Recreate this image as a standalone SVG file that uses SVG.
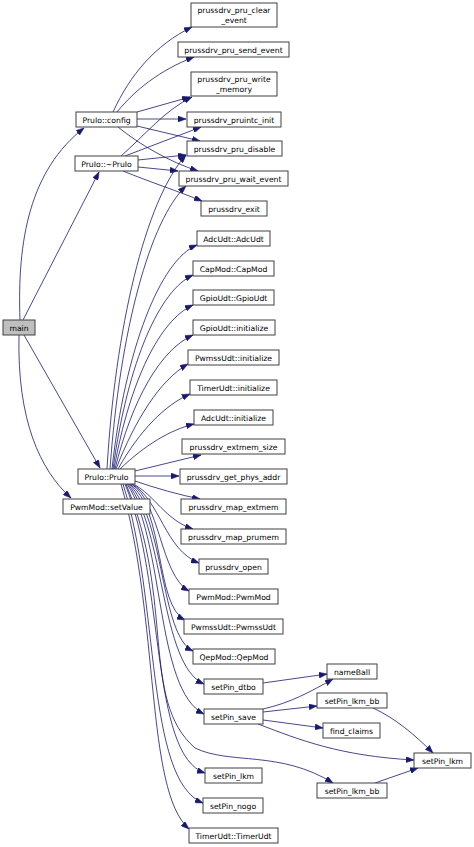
<svg xmlns="http://www.w3.org/2000/svg" width="474" height="847" viewBox="0 0 474 847">
<style>
.n rect{fill:#fff;stroke:#404040;stroke-width:1}
.n.m rect{fill:#bfbfbf}
.n text{font-family:"DejaVu Sans","Liberation Sans",sans-serif;font-size:7.7px;fill:#000;text-anchor:middle}
.e path{fill:none;stroke:#191970;stroke-width:0.8;marker-end:url(#ah)}
</style>
<defs>
<marker id="ah" markerUnits="userSpaceOnUse" markerWidth="9" markerHeight="6" refX="8" refY="3" orient="auto">
<path d="M0,0 L8,3 L0,6 z" fill="#191970" stroke="#191970" stroke-width="0.5"/>
</marker>
</defs>
<rect width="474" height="847" fill="#fff"/>
<g id="edges" class="e">
<path d="M20,320 C17,240 30,170 84,128"/>
<path d="M23,320 L99,172"/>
<path d="M24,335 L100,468"/>
<path d="M19,335 C17,420 40,470 71,498"/>
<path d="M113,112 C130,75 155,45 192,27"/>
<path d="M117,112 C135,90 160,70 194,57"/>
<path d="M137,112 L190,97"/>
<path d="M137,119 L186,119"/>
<path d="M137,126 L200,141"/>
<path d="M118,127 C140,145 170,162 198,171"/>
<path d="M121,156 C145,135 165,110 192,97"/>
<path d="M125,156 L201,127"/>
<path d="M138,160 L186,155"/>
<path d="M138,167 L178,171"/>
<path d="M123,171 C150,182 180,192 202,201"/>
<path d="M107,469 C115,330 145,200 186,155"/>
<path d="M110,469 C120,330 150,220 186,186"/>
<path d="M112,469 C125,350 160,260 197,245"/>
<path d="M113,469 C128,360 160,290 193,275"/>
<path d="M114,469 C130,380 160,320 193,305"/>
<path d="M115,469 C132,400 160,350 193,335"/>
<path d="M116,469 C135,420 160,380 188,364"/>
<path d="M118,469 C140,430 165,405 190,394"/>
<path d="M120,469 C145,445 170,430 194,424"/>
<path d="M135,471 L201,455"/>
<path d="M135,476 L179,476"/>
<path d="M135,481 C155,488 180,495 200,499"/>
<path d="M133,484 C155,495 165,520 193,529"/>
<path d="M132,484 C160,500 165,550 199,563"/>
<path d="M131,484 C160,500 160,575 189,591"/>
<path d="M130,484 C165,510 155,605 185,620"/>
<path d="M129,484 C165,520 160,635 193,651"/>
<path d="M128,484 C165,530 160,665 204,684"/>
<path d="M127,484 C165,540 155,690 204,714"/>
<path d="M126,484 C175,600 140,700 195,748 C230,765 280,750 333,783"/>
<path d="M125,484 C165,580 150,755 205,773"/>
<path d="M123,484 C160,600 145,780 203,803"/>
<path d="M121,484 C160,620 145,790 189,829"/>
<path d="M263,683 L327,674"/>
<path d="M263,709 C290,703 310,692 333,679"/>
<path d="M263,712 L317,706"/>
<path d="M263,720 L323,728"/>
<path d="M258,724 C300,740 340,756 414,760"/>
<path d="M373,708 C395,718 415,735 433,753"/>
<path d="M375,783 L418,768"/>
</g>
<g id="n_main" class="n m"><rect x="3" y="320" width="32" height="15"/><text x="19" y="330.5">main</text></g>
<g id="n_config" class="n"><rect x="76" y="112" width="61" height="15"/><text x="106.5" y="122.5">PruIo::config</text></g>
<g id="n_dtor" class="n"><rect x="75" y="156" width="63" height="15"/><text x="106.5" y="166.5">PruIo::~PruIo</text></g>
<g id="n_pruio" class="n"><rect x="78" y="469" width="57" height="15"/><text x="106.5" y="479.5">PruIo::PruIo</text></g>
<g id="n_setvalue" class="n"><rect x="63" y="499" width="87" height="15"/><text x="106.5" y="509.5">PwmMod::setValue</text></g>
<g id="n_clear" class="n"><rect x="191" y="3" width="86" height="24"/><text x="234" y="13">prussdrv_pru_clear</text><text x="234" y="22.5">_event</text></g>
<g id="n_send" class="n"><rect x="178" y="42" width="111" height="15"/><text x="233.5" y="52.5">prussdrv_pru_send_event</text></g>
<g id="n_write" class="n"><rect x="191" y="72" width="86" height="24"/><text x="234" y="82">prussdrv_pru_write</text><text x="234" y="91.5">_memory</text></g>
<g id="n_intc" class="n"><rect x="187" y="112" width="94" height="15"/><text x="234" y="122.5">prussdrv_pruintc_init</text></g>
<g id="n_disable" class="n"><rect x="187" y="141" width="95" height="15"/><text x="234.5" y="151.5">prussdrv_pru_disable</text></g>
<g id="n_wait" class="n"><rect x="179" y="171" width="109" height="15"/><text x="233.5" y="181.5">prussdrv_pru_wait_event</text></g>
<g id="n_exit" class="n"><rect x="201" y="201" width="66" height="15"/><text x="234" y="211.5">prussdrv_exit</text></g>
<g id="n_adcudt" class="n"><rect x="197" y="231" width="73" height="15"/><text x="233.5" y="241.5">AdcUdt::AdcUdt</text></g>
<g id="n_capmod" class="n"><rect x="193" y="261" width="81" height="15"/><text x="233.5" y="271.5">CapMod::CapMod</text></g>
<g id="n_gpioudt" class="n"><rect x="193" y="290" width="81" height="15"/><text x="233.5" y="300.5">GpioUdt::GpioUdt</text></g>
<g id="n_gpioinit" class="n"><rect x="193" y="320" width="82" height="15"/><text x="234" y="330.5">GpioUdt::initialize</text></g>
<g id="n_pwmssinit" class="n"><rect x="188" y="350" width="91" height="15"/><text x="233.5" y="360.5">PwmssUdt::initialize</text></g>
<g id="n_timerinit" class="n"><rect x="190" y="380" width="87" height="15"/><text x="233.5" y="390.5">TimerUdt::initialize</text></g>
<g id="n_adcinit" class="n"><rect x="194" y="410" width="79" height="15"/><text x="233.5" y="420.5">AdcUdt::initialize</text></g>
<g id="n_extmem" class="n"><rect x="182" y="439" width="103" height="15"/><text x="233.5" y="449.5">prussdrv_extmem_size</text></g>
<g id="n_phys" class="n"><rect x="180" y="469" width="107" height="15"/><text x="233.5" y="479.5">prussdrv_get_phys_addr</text></g>
<g id="n_mapext" class="n"><rect x="181" y="499" width="105" height="15"/><text x="233.5" y="509.5">prussdrv_map_extmem</text></g>
<g id="n_mappru" class="n"><rect x="181" y="529" width="105" height="15"/><text x="233.5" y="539.5">prussdrv_map_prumem</text></g>
<g id="n_open" class="n"><rect x="199" y="559" width="69" height="15"/><text x="233.5" y="569.5">prussdrv_open</text></g>
<g id="n_pwmmod" class="n"><rect x="189" y="589" width="89" height="15"/><text x="233.5" y="599.5">PwmMod::PwmMod</text></g>
<g id="n_pwmss" class="n"><rect x="184" y="619" width="99" height="15"/><text x="233.5" y="629.5">PwmssUdt::PwmssUdt</text></g>
<g id="n_qep" class="n"><rect x="193" y="649" width="82" height="15"/><text x="234" y="659.5">QepMod::QepMod</text></g>
<g id="n_dtbo" class="n"><rect x="204" y="679" width="59" height="15"/><text x="233.5" y="689.5">setPin_dtbo</text></g>
<g id="n_save" class="n"><rect x="204" y="709" width="59" height="15"/><text x="233.5" y="719.5">setPin_save</text></g>
<g id="n_lkm1" class="n"><rect x="205" y="768" width="57" height="15"/><text x="233.5" y="778.5">setPin_lkm</text></g>
<g id="n_nogo" class="n"><rect x="203" y="798" width="60" height="15"/><text x="233" y="808.5">setPin_nogo</text></g>
<g id="n_timerudt" class="n"><rect x="189" y="828" width="89" height="15"/><text x="233.5" y="838.5">TimerUdt::TimerUdt</text></g>
<g id="n_nameball" class="n"><rect x="327" y="664" width="50" height="15"/><text x="352" y="674.5">nameBall</text></g>
<g id="n_lkmbb1" class="n"><rect x="317" y="693" width="70" height="15"/><text x="352" y="703.5">setPin_lkm_bb</text></g>
<g id="n_claims" class="n"><rect x="323" y="723" width="57" height="15"/><text x="351.5" y="733.5">find_claims</text></g>
<g id="n_lkmbb2" class="n"><rect x="317" y="783" width="70" height="15"/><text x="352" y="793.5">setPin_lkm_bb</text></g>
<g id="n_lkm2" class="n"><rect x="414" y="753" width="57" height="15"/><text x="442.5" y="763.5">setPin_lkm</text></g>
</svg>
